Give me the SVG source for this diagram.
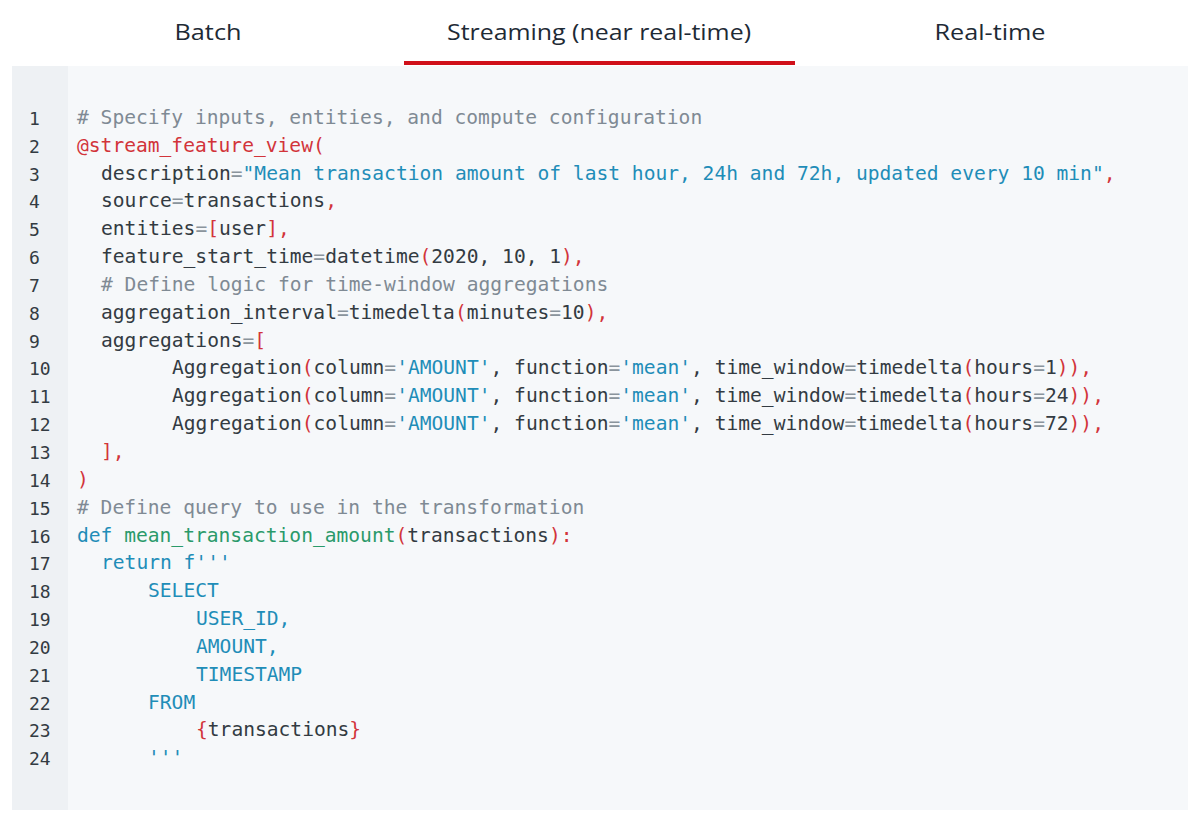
<svg xmlns="http://www.w3.org/2000/svg" width="1200" height="819" viewBox="0 0 1200 819">
<style>
.tab{font-family:"Open Sans","Liberation Sans",sans-serif;font-size:21px;fill:#1e2a35;text-anchor:middle;font-weight:500}
.code{font-family:"DejaVu Sans Mono","Liberation Mono",monospace;font-size:19.6px;fill:#333b42}
.ln{font-family:"DejaVu Sans Mono","Liberation Mono",monospace;font-size:18px;fill:#333b42}
.c{fill:#7f8a94}.r{fill:#d2343a}.s{fill:#1f8db8}.g{fill:#2a9a6a}.o{fill:#8a949c}
</style>
<rect width="1200" height="819" fill="#ffffff"/>
<g id="tabs">
<text class="tab" x="208" y="40" textLength="67" lengthAdjust="spacingAndGlyphs">Batch</text>
<text class="tab" x="599" y="40" textLength="304" lengthAdjust="spacingAndGlyphs">Streaming (near real-time)</text>
<text class="tab" x="990" y="40" textLength="111" lengthAdjust="spacingAndGlyphs">Real-time</text>
<rect x="404" y="61" width="391" height="4" fill="#d0101a"/>
</g>
<g id="panel">
<rect x="12" y="66" width="1176" height="744" fill="#f6f8fa"/>
<rect x="12" y="66" width="56" height="744" fill="#eef1f4"/>
</g>
<g id="linenumbers" class="ln">
<text x="29" y="125">1</text><text x="29" y="153">2</text><text x="29" y="181">3</text><text x="29" y="208">4</text><text x="29" y="236">5</text><text x="29" y="264">6</text><text x="29" y="292">7</text><text x="29" y="320">8</text><text x="29" y="348">9</text>
<text x="29" y="375">10</text><text x="29" y="403">11</text><text x="29" y="431">12</text><text x="29" y="459">13</text><text x="29" y="487">14</text><text x="29" y="515">15</text><text x="29" y="543">16</text><text x="29" y="570">17</text><text x="29" y="598">18</text><text x="29" y="626">19</text><text x="29" y="654">20</text><text x="29" y="682">21</text><text x="29" y="710">22</text><text x="29" y="737">23</text><text x="29" y="765">24</text>
</g>
<g id="code" class="code" xml:space="preserve">
<text x="77" y="124" class="c"># Specify inputs, entities, and compute configuration</text>
<text x="77" y="152" class="r">@stream_feature_view(</text>
<text x="101" y="180">description<tspan class="o">=</tspan><tspan class="s">"Mean transaction amount of last hour, 24h and 72h, updated every 10 min"</tspan><tspan class="r">,</tspan></text>
<text x="101" y="207">source<tspan class="o">=</tspan>transactions<tspan class="r">,</tspan></text>
<text x="101" y="235">entities<tspan class="o">=</tspan><tspan class="r">[</tspan>user<tspan class="r">],</tspan></text>
<text x="101" y="263">feature_start_time<tspan class="o">=</tspan>datetime<tspan class="r">(</tspan>2020, 10, 1<tspan class="r">),</tspan></text>
<text x="101" y="291" class="c"># Define logic for time-window aggregations</text>
<text x="101" y="319">aggregation_interval<tspan class="o">=</tspan>timedelta<tspan class="r">(</tspan>minutes<tspan class="o">=</tspan>10<tspan class="r">),</tspan></text>
<text x="101" y="347">aggregations<tspan class="o">=</tspan><tspan class="r">[</tspan></text>
<text x="172" y="374">Aggregation<tspan class="r">(</tspan>column<tspan class="o">=</tspan><tspan class="s">'AMOUNT'</tspan>, function<tspan class="o">=</tspan><tspan class="s">'mean'</tspan>, time_window<tspan class="o">=</tspan>timedelta<tspan class="r">(</tspan>hours<tspan class="o">=</tspan>1<tspan class="r">)),</tspan></text>
<text x="172" y="402">Aggregation<tspan class="r">(</tspan>column<tspan class="o">=</tspan><tspan class="s">'AMOUNT'</tspan>, function<tspan class="o">=</tspan><tspan class="s">'mean'</tspan>, time_window<tspan class="o">=</tspan>timedelta<tspan class="r">(</tspan>hours<tspan class="o">=</tspan>24<tspan class="r">)),</tspan></text>
<text x="172" y="430">Aggregation<tspan class="r">(</tspan>column<tspan class="o">=</tspan><tspan class="s">'AMOUNT'</tspan>, function<tspan class="o">=</tspan><tspan class="s">'mean'</tspan>, time_window<tspan class="o">=</tspan>timedelta<tspan class="r">(</tspan>hours<tspan class="o">=</tspan>72<tspan class="r">)),</tspan></text>
<text x="101" y="458" class="r">],</text>
<text x="77" y="486" class="r">)</text>
<text x="77" y="514" class="c"># Define query to use in the transformation</text>
<text x="77" y="542"><tspan class="s">def</tspan> <tspan class="g">mean_transaction_amount</tspan><tspan class="r">(</tspan>transactions<tspan class="r">):</tspan></text>
<text x="101" y="569" class="s">return f'''</text>
<text x="148" y="597" class="s">SELECT</text>
<text x="196" y="625" class="s">USER_ID,</text>
<text x="196" y="653" class="s">AMOUNT,</text>
<text x="196" y="681" class="s">TIMESTAMP</text>
<text x="148" y="709" class="s">FROM</text>
<text x="196" y="736"><tspan class="r">{</tspan>transactions<tspan class="r">}</tspan></text>
<text x="148" y="764" class="s">'''</text>
</g>
</svg>
